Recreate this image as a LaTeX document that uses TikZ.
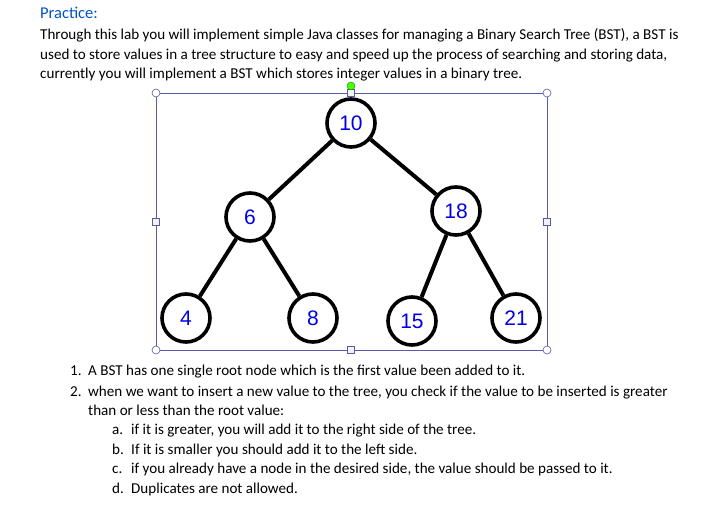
\documentclass[tikz,border=0pt]{standalone}
\usepackage{fontspec}
\setmainfont{Carlito}
\newfontfamily\numfont{Liberation Sans}
\begin{document}
\begin{tikzpicture}[x=1pt,y=-1pt,
  bst/.style={circle,draw=black,line width=3.6pt,minimum size=48pt,inner sep=0pt,font=\numfont\fontsize{21}{21}\selectfont,text=blue!90!black},
  edge/.style={line width=4pt,black},
  txt/.style={anchor=base west,inner sep=0pt,font=\fontsize{15.1}{17}\selectfont},
  hround/.style={circle,draw=gray!70!blue,fill=white,inner sep=0pt,minimum size=8pt,line width=0.6pt},
  hsq/.style={rectangle,draw=gray!70!blue,fill=blue!5,inner sep=0pt,minimum size=7pt,line width=0.6pt}]
\useasboundingbox (0,0) rectangle (705,506);
\node[txt,text=blue!60!cyan!80!black,font=\fontsize{16.5}{18}\selectfont] (title) at (40,19) {Practice:};
\node[txt] (l1) at (40,39) {Through this lab you will implement simple Java classes for managing a Binary Search Tree (BST), a BST is};
\node[txt] (l2) at (40,59) {used to store values in a tree structure to easy and speed up the process of searching and storing data,};
\node[txt] (l3) at (40,78) {currently you will implement a BST which stores integer values in a binary tree.};
% frame
\draw[gray!70!blue,line width=0.7pt] (156,93) rectangle (547,350);
\draw[gray!70!blue,line width=0.7pt] (351,93) -- (351,87);
\foreach \p/\q in {156/93,547/93,156/350,547/350}{\node[hround] at (\p,\q) {};}
\foreach \p/\q in {351/93,156/222,547/222,351/350}{\node[hsq] at (\p,\q) {};}
\node[circle,draw=green!50!black,fill=green!70!yellow,inner sep=0pt,minimum size=8pt] (rot) at (351,86) {};
% tree
\node[bst] (n10) at (351,123) {10};
\node[bst] (n6) at (250,217) {6};
\node[bst] (n18) at (456,211) {18};
\node[bst] (n4) at (186,318) {4};
\node[bst] (n8) at (313,318) {8};
\node[bst] (n15) at (412,321) {15};
\node[bst] (n21) at (516,318) {21};
\draw[edge] (n10) -- (n6);
\draw[edge] (n10) -- (n18);
\draw[edge] (n6) -- (n4);
\draw[edge] (n6) -- (n8);
\draw[edge] (n18) -- (n15);
\draw[edge] (n18) -- (n21);
% list
\node[txt] (e1) at (70,375) {1.};
\node[txt] (t1) at (88,375) {A BST has one single root node which is the first value been added to it.};
\node[txt] (e2) at (70,396) {2.};
\node[txt] (t2) at (88,396) {when we want to insert a new value to the tree, you check if the value to be inserted is greater};
\node[txt] (t2b) at (88,415) {than or less than the root value:};
\node[txt] (ea) at (112,434) {a.};
\node[txt] (ta) at (131,434) {if it is greater, you will add it to the right side of the tree.};
\node[txt] (eb) at (112,454) {b.};
\node[txt] (tb) at (131,454) {If it is smaller you should add it to the left side.};
\node[txt] (ec) at (112,473) {c.};
\node[txt] (tc) at (131,473) {if you already have a node in the desired side, the value should be passed to it.};
\node[txt] (ed) at (112,493) {d.};
\node[txt] (td) at (131,493) {Duplicates are not allowed.};
\end{tikzpicture}
\end{document}
